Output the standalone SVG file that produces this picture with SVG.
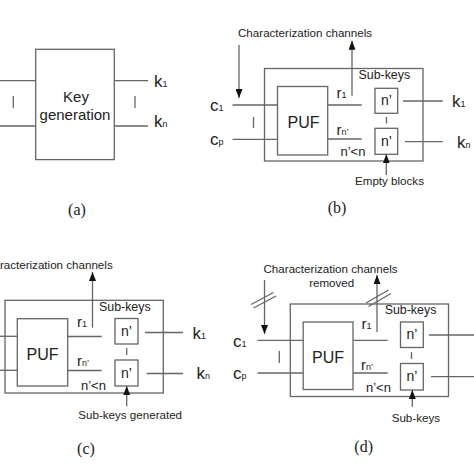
<svg xmlns="http://www.w3.org/2000/svg" width="474" height="474" viewBox="0 0 474 474">
<style>
.ln{stroke:#666;stroke-width:1.3;fill:none}
.bx{stroke:#666;stroke-width:1.3;fill:none}
.t{font-family:"Liberation Sans",Arial,sans-serif;fill:#222}
.s{font-size:11.6px}
.sk{font-size:12.4px}
.k{font-size:17px}
.r{font-size:15px}
.sub{font-size:9px}
.np{font-size:14px;text-anchor:middle}
.puf{font-size:16px;text-anchor:middle}
.lab{font-family:"Liberation Serif","Times New Roman",serif;font-size:16px;fill:#222;text-anchor:middle}
</style>
<defs>
<marker id="ah" markerUnits="userSpaceOnUse" markerWidth="9" markerHeight="7" viewBox="0 0 9 7" refX="9" refY="3.5" orient="auto">
<path d="M0,0 L9,3.5 L0,7 z" fill="#111"/>
</marker>
</defs>
<rect width="474" height="474" fill="#fff"/>

<!-- Panel (a) -->
<g id="a-keygen">
<rect class="bx" x="35.7" y="49.3" width="78.6" height="110.3"/>
<text class="t" x="76" y="101.5" font-size="15" text-anchor="middle">Key</text>
<text class="t" x="75" y="119.5" font-size="15" text-anchor="middle">generation</text>
</g>
<g id="a-labels">
<text class="t k" x="154" y="87">k<tspan class="sub">1</tspan></text>
<text class="t k" x="154" y="127">k<tspan class="sub">n</tspan></text>
<text class="lab" x="77" y="215">(a)</text>
</g>

<!-- Panel (b) -->
<g id="b-outer"><rect class="bx" x="264.5" y="68.5" width="158.5" height="92.5"/></g>
<g id="b-puf">
<rect class="bx" x="277.5" y="86.5" width="50.2" height="68.5"/>
<text class="t puf" x="303.5" y="128">PUF</text>
</g>
<g id="b-n1"><rect class="bx" x="375" y="88.3" width="22.7" height="25"/><text class="t np" x="386.5" y="105">n’</text></g>
<g id="b-n2"><rect class="bx" x="375" y="128.3" width="22.7" height="26"/><text class="t np" x="386.5" y="146">n’</text></g>
<g id="b-labels">
<text class="t k" x="210" y="111">c<tspan class="sub">1</tspan></text>
<text class="t k" x="210" y="145">c<tspan class="sub">p</tspan></text>
<text class="t s" x="238" y="37">Characterization channels</text>
<text class="t r" x="336.5" y="97.5">r<tspan class="sub">1</tspan></text>
<text class="t r" x="336.5" y="134.5">r<tspan class="sub">n’</tspan></text>
<text class="t sk" x="358.5" y="78.5">Sub-keys</text>
<text class="t" x="340.5" y="156" font-size="13">n’&lt;n</text>
<text class="t k" x="452" y="107">k<tspan class="sub">1</tspan></text>
<text class="t k" x="457" y="148">k<tspan class="sub">n</tspan></text>
<text class="t s" x="355" y="185">Empty blocks</text>
<text class="lab" x="337" y="213">(b)</text>
</g>

<!-- Panel (c) -->
<g id="c-outer"><rect class="bx" x="5" y="300.3" width="158.3" height="92.7"/></g>
<g id="c-puf">
<rect class="bx" x="17.3" y="318.7" width="50.4" height="67.3"/>
<text class="t puf" x="42.5" y="360">PUF</text>
</g>
<g id="c-n1"><rect class="bx" x="115" y="318.5" width="23" height="25.5"/><text class="t np" x="126.5" y="335.5">n’</text></g>
<g id="c-n2"><rect class="bx" x="115" y="360" width="23" height="26"/><text class="t np" x="126.5" y="377.7">n’</text></g>
<g id="c-labels">
<text class="t s" x="112.7" y="268.7" text-anchor="end">Characterization channels</text>
<text class="t r" x="77" y="327">r<tspan class="sub">1</tspan></text>
<text class="t r" x="77" y="366">r<tspan class="sub">n’</tspan></text>
<text class="t sk" x="99" y="311">Sub-keys</text>
<text class="t" x="81" y="389.5" font-size="13">n’&lt;n</text>
<text class="t k" x="192.5" y="338.5">k<tspan class="sub">1</tspan></text>
<text class="t k" x="196.5" y="378.5">k<tspan class="sub">n</tspan></text>
<text class="t s" x="78.3" y="418.7">Sub-keys generated</text>
<text class="lab" x="86" y="453.7">(c)</text>
</g>

<!-- Panel (d) -->
<g id="d-outer"><rect class="bx" x="290.3" y="304" width="158.2" height="92.5"/></g>
<g id="d-puf">
<rect class="bx" x="303.2" y="322" width="49.8" height="67.5"/>
<text class="t puf" x="328" y="363">PUF</text>
</g>
<g id="d-n1"><rect class="bx" x="400.5" y="322" width="22.8" height="25.5"/><text class="t np" x="412" y="338.7">n’</text></g>
<g id="d-n2"><rect class="bx" x="400.5" y="363.5" width="22.8" height="26.5"/><text class="t np" x="412" y="381">n’</text></g>
<g id="d-labels">
<text class="t k" x="233" y="347">c<tspan class="sub">1</tspan></text>
<text class="t k" x="233" y="379">c<tspan class="sub">p</tspan></text>
<text class="t s" x="263.5" y="273.3">Characterization channels</text>
<text class="t s" x="331.7" y="286.7" text-anchor="middle">removed</text>
<text class="t r" x="361.5" y="329">r<tspan class="sub">1</tspan></text>
<text class="t r" x="361" y="369.5">r<tspan class="sub">n’</tspan></text>
<text class="t sk" x="384.7" y="313.7">Sub-keys</text>
<text class="t" x="366" y="391.5" font-size="13">n’&lt;n</text>
<text class="t s" x="391.7" y="421.7">Sub-keys</text>
<text class="lab" x="363.7" y="452">(d)</text>
</g>

<!-- Connectors -->
<g id="connectors">
<!-- a -->
<line class="ln" x1="0" y1="80.7" x2="35.7" y2="80.7"/>
<line class="ln" x1="0" y1="126" x2="35.7" y2="126"/>
<line class="ln" x1="13.3" y1="96" x2="13.3" y2="108"/>
<line class="ln" x1="114.3" y1="80.7" x2="148" y2="80.7"/>
<line class="ln" x1="114.3" y1="126" x2="148" y2="126"/>
<line class="ln" x1="135" y1="96" x2="135" y2="108"/>
<!-- b -->
<line class="ln" x1="232.5" y1="105" x2="277.5" y2="105"/>
<line class="ln" x1="232.5" y1="139.3" x2="277.5" y2="139.3"/>
<line class="ln" x1="253.5" y1="117" x2="253.5" y2="128"/>
<line class="ln" x1="239" y1="45" x2="239" y2="98" marker-end="url(#ah)"/>
<line class="ln" x1="352" y1="95.7" x2="352" y2="40.7" marker-end="url(#ah)"/>
<line class="ln" x1="327.7" y1="105" x2="361.7" y2="105"/>
<line class="ln" x1="327.7" y1="139" x2="361.7" y2="139"/>
<line class="ln" x1="386.5" y1="117" x2="386.5" y2="123.5"/>
<line class="ln" x1="403" y1="101" x2="442.7" y2="101"/>
<line class="ln" x1="405" y1="141.7" x2="442.7" y2="141.7"/>
<line class="ln" x1="386.3" y1="175" x2="386.3" y2="154.3" marker-end="url(#ah)"/>
<!-- c -->
<line class="ln" x1="0" y1="336.3" x2="17.3" y2="336.3"/>
<line class="ln" x1="0" y1="370.3" x2="17.3" y2="370.3"/>
<line class="ln" x1="92.5" y1="327.7" x2="92.5" y2="272" marker-end="url(#ah)"/>
<line class="ln" x1="67.7" y1="336.5" x2="101.7" y2="336.5"/>
<line class="ln" x1="67.7" y1="370.5" x2="101.7" y2="370.5"/>
<line class="ln" x1="126.7" y1="348" x2="126.7" y2="355"/>
<line class="ln" x1="145" y1="332.5" x2="183" y2="332.5"/>
<line class="ln" x1="146.7" y1="373.5" x2="183" y2="373.5"/>
<line class="ln" x1="126.7" y1="406.3" x2="126.7" y2="386" marker-end="url(#ah)"/>
<!-- d -->
<line class="ln" x1="257.5" y1="340.3" x2="303.2" y2="340.3"/>
<line class="ln" x1="257.5" y1="373" x2="303.2" y2="373"/>
<line class="ln" x1="279.3" y1="351" x2="279.3" y2="363"/>
<line class="ln" x1="264.5" y1="280" x2="264.5" y2="334" marker-end="url(#ah)"/>
<line class="ln" x1="251" y1="304.5" x2="273.5" y2="292.5"/>
<line class="ln" x1="253.5" y1="308" x2="276" y2="296"/>
<line class="ln" x1="377" y1="332" x2="377" y2="275" marker-end="url(#ah)"/>
<line class="ln" x1="366" y1="303" x2="388.5" y2="290"/>
<line class="ln" x1="368.5" y1="306.5" x2="391" y2="293.5"/>
<line class="ln" x1="353" y1="340.3" x2="387.7" y2="340.3"/>
<line class="ln" x1="353" y1="373" x2="387.7" y2="373"/>
<line class="ln" x1="411.5" y1="352" x2="411.5" y2="359"/>
<line class="ln" x1="429" y1="335" x2="474" y2="335"/>
<line class="ln" x1="431" y1="376.7" x2="474" y2="376.7"/>
<line class="ln" x1="412.3" y1="406.7" x2="412.3" y2="390" marker-end="url(#ah)"/>
</g>
</svg>
